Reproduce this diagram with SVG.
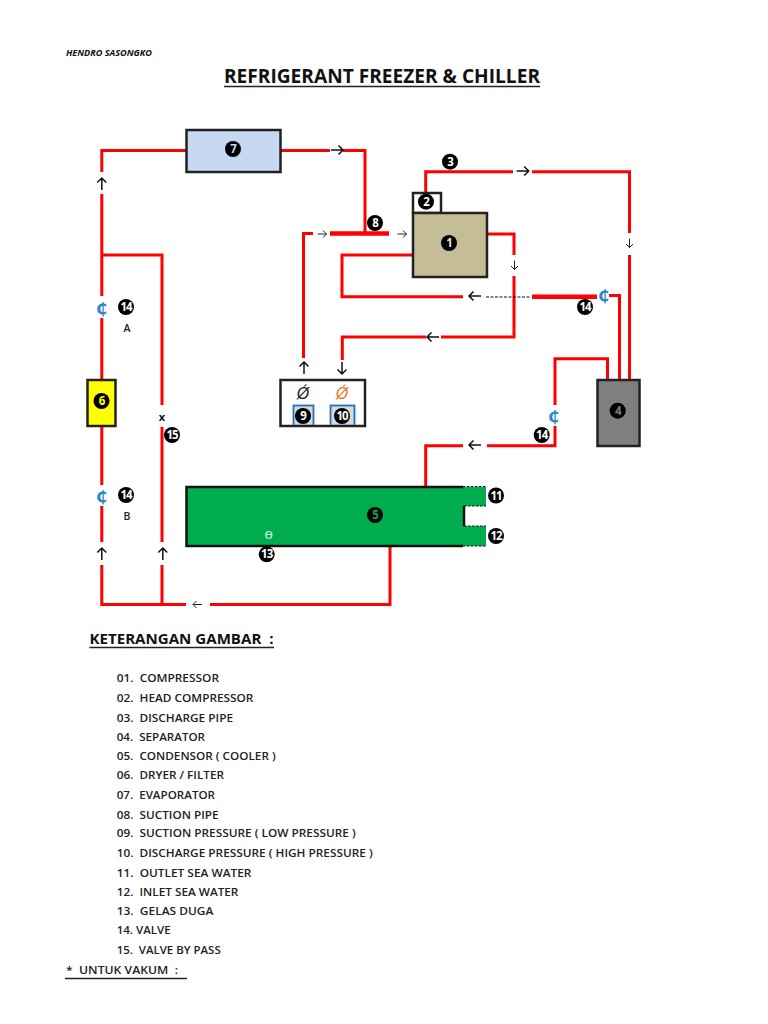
<svg xmlns="http://www.w3.org/2000/svg" width="768" height="1024" viewBox="0 0 768 1024">
<style>
text{font-family:"Open Sans","Liberation Sans",sans-serif;white-space:pre}
.pipe{fill:none;stroke:#fe0000;stroke-width:3;stroke-linejoin:miter}
.thick{fill:none;stroke:#fe0000;stroke-width:4.5}
.box{stroke:#222;stroke-width:2.5}
.ar{fill:none;stroke:#111;stroke-width:1.5}
.ars{fill:none;stroke:#222;stroke-width:1}
.dot{fill:#000}
.n{font-size:11.5px;font-weight:700;text-anchor:middle;fill:#fff;letter-spacing:-1px}
.leg{font-size:11.5px;font-weight:600;fill:#222}
.v{font-size:16px;font-weight:700;fill:#2e86c8;text-anchor:middle;font-family:"DejaVu Sans",sans-serif}
.g{font-size:16px;font-style:italic;text-anchor:middle;font-family:"Liberation Sans",sans-serif}
.hd{font-weight:700;fill:#111}
.ul{stroke:#222;stroke-width:1.5}
</style>
<defs>
<path id="a" class="ar" d="M-6 0H6M1.5-4.500L6 0L1.500 4.500"/>
<path id="s" class="ars" d="M-4.500 0H4.500M1-3.500L4.500 0L1 3.500"/>
</defs>
<text id="author" x="66" y="56" font-size="8.500" font-weight="700" font-style="italic" fill="#111" textLength="86" lengthAdjust="spacingAndGlyphs">HENDRO SASONGKO</text>
<text id="title" class="hd" x="224" y="82.500" font-size="19" textLength="316" lengthAdjust="spacingAndGlyphs">REFRIGERANT FREEZER &amp; CHILLER</text>
<line class="ul" x1="224" y1="86.500" x2="540" y2="86.500"/>
<g id="connectors">
<path class="pipe" d="M186 150.500H101.800V172M101.800 194V296M101.800 318V380M101.800 426V485M101.800 506V542M101.800 565V604.500H186M210 604.500H390V546"/>
<path class="pipe" d="M101.800 255H162V405M162 427V542M162 565V604.500"/>
<path class="pipe" d="M281 150.500H330M343 150.500H365V233"/>
<path class="thick" d="M330 233.500H389"/>
<path class="pipe" d="M303.500 358V233.500H313"/>
<path class="pipe" d="M425.700 193V171.700H513M532 171.700H629.500V233M629.500 255V380"/>
<path class="pipe" d="M487 234H514V255M514 276V337H441M426 337H342.300V360"/>
<path class="pipe" d="M413 255H342V296.700H463"/>
<path d="M486 297H530" fill="none" stroke="#111" stroke-width="1" stroke-dasharray="3 1.500"/>
<path class="thick" d="M532 296.700H597"/>
<path class="pipe" d="M609 295.500H619.500V380"/>
<path class="pipe" d="M607.500 380V358.700H555V405M555 426V445.700H487M463 445.700H425.700V486"/>
<use href="#a" transform="translate(101.800 184) rotate(-90)"/>
<use href="#a" transform="translate(101.800 554) rotate(-90)"/>
<use href="#a" transform="translate(162.800 554) rotate(-90)"/>
<use href="#s" transform="translate(197.500 604.500) rotate(180)"/>
<use href="#a" transform="translate(337 150)"/>
<use href="#s" transform="translate(322 234)"/>
<use href="#s" transform="translate(402 234)"/>
<use href="#a" transform="translate(304 368) rotate(-90)"/>
<use href="#a" transform="translate(342 368) rotate(90)"/>
<use href="#a" transform="translate(522.700 171)"/>
<use href="#s" transform="translate(629.500 243) rotate(90)"/>
<use href="#s" transform="translate(514.500 265) rotate(90)"/>
<use href="#a" transform="translate(475 296) rotate(180)"/>
<use href="#a" transform="translate(433 337) rotate(180)"/>
<use href="#a" transform="translate(475 445) rotate(180)"/>
</g>
<g id="node7"><rect class="box" x="186.500" y="130" width="94" height="42" fill="#c6d9f1"/><circle class="dot" cx="233" cy="149" r="8"/><text class="n" x="233" y="153" style="fill:#c6d9f1">7</text></g>
<g id="node6"><rect class="box" x="87.500" y="380" width="28" height="46" fill="#ffff00"/><circle class="dot" cx="101.500" cy="401" r="8"/><text class="n" x="101.500" y="405" style="fill:#ffff00">6</text></g>
<g id="node2"><rect class="box" x="413" y="193" width="28" height="20" fill="#fff"/><circle class="dot" cx="426" cy="201.700" r="8"/><text class="n" x="426" y="205.700">2</text></g>
<g id="node1"><rect class="box" x="413" y="213" width="74" height="64" fill="#c4bd97"/><circle class="dot" cx="449" cy="243" r="8"/><text class="n" x="449" y="247" style="fill:#e8e3cc">1</text></g>
<g id="node4"><rect class="box" x="597.500" y="380" width="42" height="66" fill="#7f7f7f"/><circle class="dot" cx="617.700" cy="410.700" r="8"/><text class="n" x="617.700" y="414.700" style="fill:#7f7f7f">4</text></g>
<g id="node5">
<path fill="#00ae4f" d="M186.500 487H486V506H464V526H486V546H186.500Z"/>
<path fill="none" stroke="#111" stroke-width="2.500" d="M463 487H186.500V546H463M464 506V526"/>
<path fill="none" stroke="#111" stroke-width="1" stroke-dasharray="2.500 1.500" d="M463 486.500H486M464 506H486M464 526H486M463 546H486"/>
<circle class="dot" cx="375" cy="515" r="8"/><text class="n" x="375" y="519" style="fill:#00ae4f">5</text>
<text x="268.700" y="539" font-size="14" font-family="DejaVu Sans" fill="#d8f5e2" text-anchor="middle">ө</text>
</g>
<g id="gauges">
<rect class="box" x="280.500" y="380" width="84.500" height="46" fill="#fff"/>
<rect x="293.500" y="405.500" width="20" height="20" fill="#d9d9d9" stroke="#2273b8" stroke-width="1.800"/>
<rect x="330.500" y="405.500" width="24" height="20" fill="#d9d9d9" stroke="#2273b8" stroke-width="1.800"/>
<line x1="280.500" y1="426" x2="365" y2="426" stroke="#222" stroke-width="2"/>
<text class="g" x="303" y="399" fill="#222">Ǿ</text><text class="g" x="342" y="399" fill="#e07b28">Ǿ</text>
<circle class="dot" cx="303" cy="416" r="8"/><text class="n" x="303" y="420">9</text>
<circle class="dot" cx="342" cy="416" r="8"/><text class="n" x="342" y="420">10</text>
</g>
<g id="labels">
<circle class="dot" cx="450" cy="161.700" r="8"/><text class="n" x="450" y="165.700">3</text>
<circle class="dot" cx="375" cy="223" r="8"/><text class="n" x="375" y="227">8</text>
<circle class="dot" cx="126" cy="307" r="8"/><text class="n" x="126" y="311">14</text>
<circle class="dot" cx="126" cy="495" r="8"/><text class="n" x="126" y="499">14</text>
<circle class="dot" cx="585" cy="307" r="8"/><text class="n" x="585" y="311">14</text>
<circle class="dot" cx="541.700" cy="435" r="8"/><text class="n" x="541.700" y="439">14</text>
<circle class="dot" cx="172" cy="435" r="8"/><text class="n" x="172" y="439">15</text>
<circle class="dot" cx="496" cy="495.500" r="8"/><text class="n" x="496" y="499.500">11</text>
<circle class="dot" cx="496" cy="536" r="8"/><text class="n" x="496" y="540">12</text>
<circle class="dot" cx="266.700" cy="554.300" r="8"/><text class="n" x="266.700" y="558.300">13</text>
<text x="127" y="332" font-size="10.500" font-weight="600" fill="#222" text-anchor="middle">A</text>
<text x="127" y="520" font-size="10.500" font-weight="600" fill="#222" text-anchor="middle">B</text>
<text x="162" y="421" font-size="11" font-weight="700" fill="#111" text-anchor="middle">x</text>
<text class="v" x="101.500" y="313.500">₵</text>
<text class="v" x="101.500" y="501.500">₵</text>
<text class="v" x="603.500" y="301">₵</text>
<text class="v" x="553.500" y="422">₵</text>
</g>
<g id="legend">
<text class="hd" x="89.500" y="643.500" font-size="14.500" textLength="184" lengthAdjust="spacingAndGlyphs">KETERANGAN GAMBAR  :</text>
<line class="ul" x1="89.500" y1="647.500" x2="274" y2="647.500"/>
<text class="leg" x="116.700" y="682" textLength="102.300" lengthAdjust="spacingAndGlyphs">01.  COMPRESSOR</text>
<text class="leg" x="116.700" y="702" textLength="136.700" lengthAdjust="spacingAndGlyphs">02.  HEAD COMPRESSOR</text>
<text class="leg" x="116.700" y="721.500" textLength="116.300" lengthAdjust="spacingAndGlyphs">03.  DISCHARGE PIPE</text>
<text class="leg" x="116.700" y="741" textLength="88.300" lengthAdjust="spacingAndGlyphs">04.  SEPARATOR</text>
<text class="leg" x="116.700" y="759.500" textLength="159" lengthAdjust="spacingAndGlyphs">05.  CONDENSOR ( COOLER )</text>
<text class="leg" x="116.700" y="779" textLength="107.300" lengthAdjust="spacingAndGlyphs">06.  DRYER / FILTER</text>
<text class="leg" x="116.700" y="799" textLength="98.300" lengthAdjust="spacingAndGlyphs">07.  EVAPORATOR</text>
<text class="leg" x="116.700" y="818.500" textLength="102" lengthAdjust="spacingAndGlyphs">08.  SUCTION PIPE</text>
<text class="leg" x="116.700" y="837" textLength="239" lengthAdjust="spacingAndGlyphs">09.  SUCTION PRESSURE ( LOW PRESSURE )</text>
<text class="leg" x="116.700" y="857" textLength="256" lengthAdjust="spacingAndGlyphs">10.  DISCHARGE PRESSURE ( HIGH PRESSURE )</text>
<text class="leg" x="116.700" y="876.500" textLength="134.700" lengthAdjust="spacingAndGlyphs">11.  OUTLET SEA WATER</text>
<text class="leg" x="116.700" y="896" textLength="121.700" lengthAdjust="spacingAndGlyphs">12.  INLET SEA WATER</text>
<text class="leg" x="116.700" y="914.500" textLength="96.700" lengthAdjust="spacingAndGlyphs">13.  GELAS DUGA</text>
<text class="leg" x="116.700" y="934" textLength="54" lengthAdjust="spacingAndGlyphs">14. VALVE</text>
<text class="leg" x="116.700" y="954" textLength="104" lengthAdjust="spacingAndGlyphs">15.  VALVE BY PASS</text>
<text class="leg" x="66" y="974" font-weight="700" textLength="112" lengthAdjust="spacingAndGlyphs">*  UNTUK VAKUM  :</text>
<line class="ul" x1="65" y1="978.500" x2="187" y2="978.500"/>
</g>
</svg>
